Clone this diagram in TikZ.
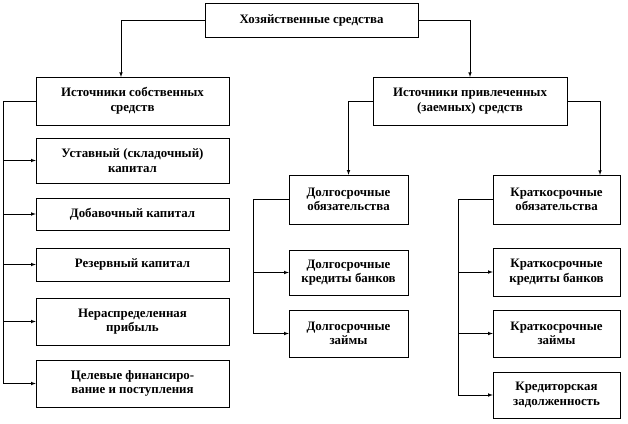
\documentclass[tikz,border=0pt]{standalone}
\usepackage{fontspec}
\setmainfont{Liberation Serif}
\usetikzlibrary{positioning}
\tikzset{box node/.style={draw,thin,fill=white,font=\bfseries\fontsize{11}{12.5}\selectfont,align=center,inner sep=1pt},
  link/.style={thin,-latex}}

\begin{document}
\begin{tikzpicture}[x=0.03cm,y=-0.03cm]
            \useasboundingbox (0,0) rectangle (628,423);
            \node[box node,minimum width=213*0.03cm,minimum height=34*0.03cm] (hs) at (311.5,20) {Хозяйственные средства};
            \node[box node,minimum width=193*0.03cm,minimum height=48*0.03cm] (own) at (132.5,101) {Источники собственных\\средств};
            \node[box node,minimum width=193*0.03cm,minimum height=45*0.03cm] (ust) at (132.5,160.5) {Уставный (складочный)\\капитал};
            \node[box node,minimum width=193*0.03cm,minimum height=32*0.03cm] (dob) at (132.5,214) {Добавочный капитал};
            \node[box node,minimum width=193*0.03cm,minimum height=33*0.03cm] (rez) at (132.5,264.5) {Резервный капитал};
            \node[box node,minimum width=193*0.03cm,minimum height=47*0.03cm] (ner) at (132.5,321.5) {Нераспределенная\\прибыль};
            \node[box node,minimum width=193*0.03cm,minimum height=47*0.03cm] (cel) at (132.5,383.5) {Целевые финансиро-\\вание и поступления};
            \node[box node,minimum width=194*0.03cm,minimum height=48*0.03cm] (zaem) at (470,101) {Источники привлеченных\\(заемных) средств};
            \node[box node,minimum width=119*0.03cm,minimum height=49*0.03cm] (dobz) at (348.5,199.5) {Долгосрочные\\обязательства};
            \node[box node,minimum width=119*0.03cm,minimum height=45*0.03cm] (dkred) at (348.5,272.5) {Долгосрочные\\кредиты банков};
            \node[box node,minimum width=119*0.03cm,minimum height=47*0.03cm] (dzaim) at (348.5,333.5) {Долгосрочные\\займы};
            \node[box node,minimum width=127*0.03cm,minimum height=49*0.03cm] (kobz) at (556.5,199.5) {Краткосрочные\\обязательства};
            \node[box node,minimum width=127*0.03cm,minimum height=48*0.03cm] (kkred) at (556.5,272) {Краткосрочные\\кредиты банков};
            \node[box node,minimum width=127*0.03cm,minimum height=47*0.03cm] (kzaim) at (556.5,333.5) {Краткосрочные\\займы};
            \node[box node,minimum width=127*0.03cm,minimum height=46*0.03cm] (kred) at (556.5,395) {Кредиторская\\задолженность};

            \coordinate (lo) at (3,101);
            \coordinate (ld) at (253,199.5);
            \coordinate (lk) at (458,199.5);
            \coordinate (lt) at (121,77);
            \coordinate (rt) at (470,77);
            \coordinate (rk) at (600,175);

            \draw[link] (hs.west) -| (lt);
            \draw[link] (hs.east) -| (rt);
            \draw[link] (zaem.west) -| (dobz.north);
            \draw[link] (zaem.east) -| (rk);
            \draw[thin] (own.west) -- (lo) -- (lo |- cel.west);
            \foreach \n in {ust,dob,rez,ner,cel}
              \draw[link] (lo |- \n.west) -- (\n.west);
            \draw[thin] (dobz.west) -- (ld) -- (ld |- dzaim.west);
            \foreach \n in {dkred,dzaim}
              \draw[link] (ld |- \n.west) -- (\n.west);
            \draw[thin] (kobz.west) -- (lk) -- (lk |- kred.west);
            \foreach \n in {kkred,kzaim,kred}
              \draw[link] (lk |- \n.west) -- (\n.west);
        \end{tikzpicture}
\end{document}
